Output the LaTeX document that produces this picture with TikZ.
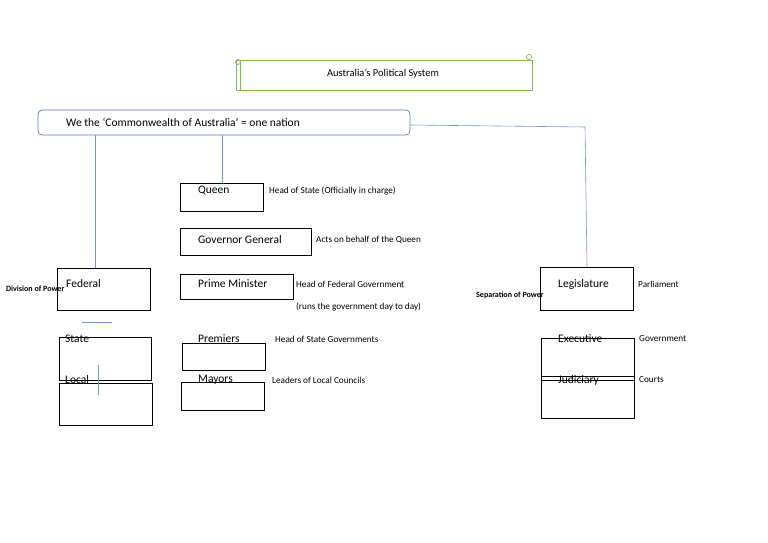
\documentclass[tikz,border=0pt]{standalone}
\usepackage{fontspec}
\setmainfont{Carlito}
\definecolor{lnblue}{RGB}{110,150,210}
\definecolor{bxblue}{RGB}{80,120,190}
\definecolor{scgreen}{RGB}{120,190,80}
\begin{document}
\begin{tikzpicture}[x=1pt,y=-1pt,
  bx/.style={draw=black,line width=0.6pt},
  con/.style={draw=lnblue,line width=0.6pt},
  tt/.style={anchor=west,font=\fontsize{11.5}{12}\selectfont,inner sep=0},
  lb/.style={anchor=west,font=\fontsize{9.2}{10}\selectfont,inner sep=0},
  sm/.style={anchor=west,font=\bfseries\fontsize{8}{9}\selectfont,inner sep=0}]
\useasboundingbox (0,0) rectangle (768,543);
% scroll banner
\draw[draw=scgreen,line width=0.7pt] (236,60) rectangle (532,90);
\draw[draw=scgreen,line width=0.7pt] (529,57) circle (2.5);
\draw[draw=scgreen,line width=0.7pt] (238,62) circle (2.5);
\draw[draw=scgreen,line width=0.7pt] (240,60) -- (240,90);
\node[font=\fontsize{10.5}{12}\selectfont] (title) at (383,74) {Australia’s Political System};
% top box
\draw[draw=bxblue,line width=0.7pt,rounded corners=4pt] (38,110) rectangle (410,135);
\node[tt] (nation) at (66,122) {We the ‘Commonwealth of Australia’ = one nation};
% boxes
\node[bx,minimum width=83,minimum height=28,anchor=north west,inner sep=0] (qbox) at (180,183) {};
\node[bx,minimum width=131,minimum height=27,anchor=north west,inner sep=0] (ggbox) at (180,228) {};
\node[bx,minimum width=113,minimum height=25,anchor=north west,inner sep=0] (pmbox) at (180,274) {};
\node[bx,minimum width=83,minimum height=27,anchor=north west,inner sep=0] (prbox) at (182,343) {};
\node[bx,minimum width=83,minimum height=28,anchor=north west,inner sep=0] (mybox) at (181,382) {};
\node[bx,minimum width=93,minimum height=42,anchor=north west,inner sep=0] (fed) at (57,268) {};
\node[bx,minimum width=92,minimum height=43,anchor=north west,inner sep=0] (st) at (59,337) {};
\node[bx,minimum width=93,minimum height=42,anchor=north west,inner sep=0] (loc) at (59,383) {};
\node[bx,minimum width=93,minimum height=43,anchor=north west,inner sep=0] (leg) at (540,267) {};
\node[bx,minimum width=93,minimum height=42,anchor=north west,inner sep=0] (exe) at (541,338) {};
\node[bx,minimum width=93,minimum height=42,anchor=north west,inner sep=0] (jud) at (541,376) {};
% connectors
\coordinate (c1) at (95,135);
\coordinate (c2) at (222,135);
\coordinate (c3) at (410,125);
\coordinate (c4) at (585,127);
\draw[con] (c1) -- (c1 |- fed.north);
\draw[con] (c2) -- (c2 |- qbox.north);
\draw[con] (c3) -- (c4) -- (587,267);
\coordinate (s1) at (82,322); \coordinate (s2) at (112,322);
\draw[con] (s1) -- (s2);
\coordinate (v1) at (98,365); \coordinate (v2) at (98,395);
\draw[con] (v1) -- (v2);
% texts
\node[tt] at (198,191) {Queen};
\node[tt] at (198,240) {Governor General};
\node[tt] at (198,284) {Prime Minister};
\node[tt] at (198,339) {Premiers};
\node[tt] at (198,380) {Mayors};
\node[tt] at (66,284) {Federal};
\node[tt] at (65,339) {State};
\node[tt] at (65,380) {Local};
\node[tt] at (558,284) {Legislature};
\node[tt] at (558,339) {Executive};
\node[tt] at (558,380) {Judiciary};
\node[lb] at (269,191) {Head of State (Officially in charge)};
\node[lb] at (316,240) {Acts on behalf of the Queen};
\node[lb] at (296,284) {Head of Federal Government};
\node[lb] at (296,307) {(runs the government day to day)};
\node[lb] at (275,339) {Head of State Governments};
\node[lb] at (272,380) {Leaders of Local Councils};
\node[lb] at (638,284) {Parliament};
\node[lb] at (639,339) {Government};
\node[lb] at (639,380) {Courts};
\node[sm] at (6,289) {Division of Power};
\node[sm] at (476,295) {Separation of Power};
\end{tikzpicture}
\end{document}
